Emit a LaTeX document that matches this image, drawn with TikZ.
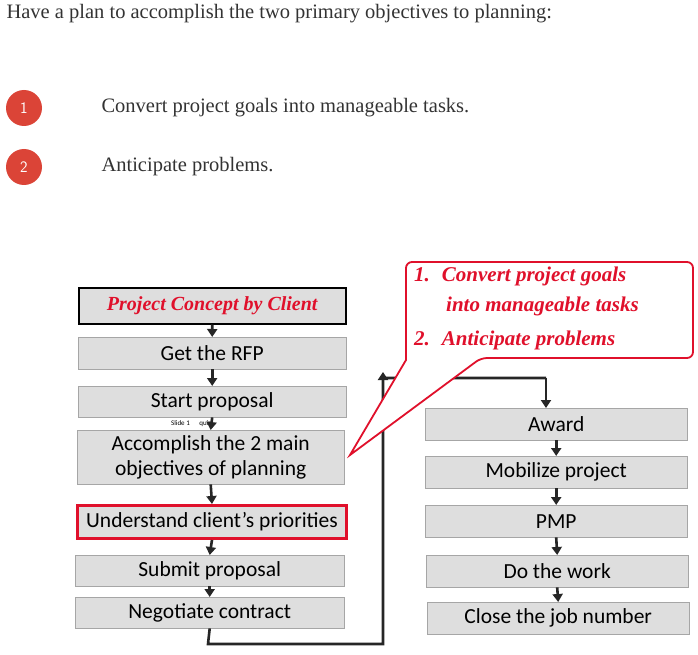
\documentclass[tikz,border=0pt]{standalone}
\usepackage{fontspec}
\setmainfont{Liberation Serif}
\newfontfamily\boxf{Carlito}
\usetikzlibrary{arrows.meta}
\definecolor{cred}{HTML}{DB4437}
\definecolor{hred}{HTML}{E0102B}
\definecolor{boxg}{HTML}{DEDEDE}
\begin{document}
\begin{tikzpicture}[x=1pt,y=-1pt,
  box/.style={draw=gray!70,fill=boxg,minimum width=268pt,inner sep=0pt,font=\boxf\fontsize{21.5}{25}\selectfont,align=center,anchor=north west},
  arr/.style={draw=black!85,line width=2.6pt,-{Triangle[length=8pt,width=10pt]}},
  num/.style={circle,fill=cred,minimum size=36pt,inner sep=0pt,text=white,font=\sffamily\fontsize{16}{18}\selectfont},
  hand/.style={text=hred,font=\itshape\bfseries\fontsize{21}{24}\selectfont}]
\useasboundingbox (0,0) rectangle (698,655);
\fill[white] (0,0) rectangle (698,655);
\node[anchor=west,font=\fontsize{20.5}{24}\selectfont,text=black!80] (title) at (3,14) {Have a plan to accomplish the two primary objectives to planning:};
\node[num] (n1) at (24,108) {1};
\node[num] (n2) at (24,167) {2};
\node[anchor=west,font=\fontsize{20.5}{24}\selectfont,text=black!80] (t1) at (98,108) {Convert project goals into manageable tasks.};
\node[anchor=west,font=\fontsize{20.5}{24}\selectfont,text=black!80] (t2) at (98,167) {Anticipate problems.};
% left column
\node[box,draw=black,line width=1.5pt,minimum width=267pt,minimum height=36pt,font=\itshape\bfseries\fontsize{20}{23}\selectfont,text=hred] (pc) at (78,287) {Project Concept by Client};
\node[box,minimum height=32pt] (rfp) at (78,337) {Get the RFP};
\node[box,minimum height=31pt] (sp) at (78,386) {Start proposal};
\node[box,minimum height=54pt,minimum width=267pt] (acc) at (77,430) {Accomplish the 2 main\\objectives of planning};
\node[box,draw=hred,line width=3pt,minimum height=33pt,minimum width=269pt] (und) at (76,504) {Understand client’s priorities};
\node[box,minimum height=31pt,minimum width=269pt] (sub) at (75,555) {Submit proposal};
\node[box,minimum height=31pt,minimum width=269pt] (neg) at (75,597) {Negotiate contract};
\node[font=\boxf\fontsize{7}{8}\selectfont] (sl) at (192,424) {Slide 1\hspace{8pt} quiz.};
% right column
\node[box,minimum height=32pt,minimum width=262pt] (aw) at (425,408) {Award};
\node[box,minimum height=32pt,minimum width=262pt] (mob) at (425,456) {Mobilize project};
\node[box,minimum height=32pt,minimum width=262pt] (pmp) at (425,505) {PMP};
\node[box,minimum height=32pt,minimum width=262pt] (dw) at (426,555) {Do the work};
\node[box,minimum height=32pt,minimum width=262pt] (cj) at (427,602) {Close the job number};
% arrows
\draw[arr] (pc.south) -- (rfp.north);
\draw[arr] (rfp.south) -- (sp.north);
\draw[arr] (sp.south) -- (acc.north);
\draw[arr] (acc.south) -- (und.north);
\draw[arr] (und.south) -- (sub.north);
\draw[arr] (sub.south) -- (neg.north);
\draw[arr] (aw.south) -- (mob.north);
\draw[arr] (mob.south) -- (pmp.north);
\draw[arr] (pmp.south) -- (dw.north);
\draw[arr] (dw.south) -- (cj.north);
\coordinate (c1) at (208,644);
\coordinate (c2) at (383,644);
\coordinate (c3) at (383,378);
\coordinate (c4) at (546,378);
\draw[arr,-] (neg.south) -- (c1) -- (c2) -- (c3) -- (c4);
\draw[arr] (c4) -- (c4 |- aw.north);
\draw[arr] (c2) -- (383,372);
% callout
\draw[hred,line width=1.8pt,fill=white,rounded corners=6pt]
  (406,358) -- (406,262) -- (693,262) -- (693,358) -- (481,358) [sharp corners] -- (350,455) -- (406,360) -- cycle;
\node[hand,anchor=north west,align=left,inner sep=0pt] (co) at (414,267) {1.\hspace{12pt}Convert project goals\\[6pt]\hspace{32pt}into manageable tasks\\[10pt]2.\hspace{12pt}Anticipate problems};
\end{tikzpicture}
\end{document}
